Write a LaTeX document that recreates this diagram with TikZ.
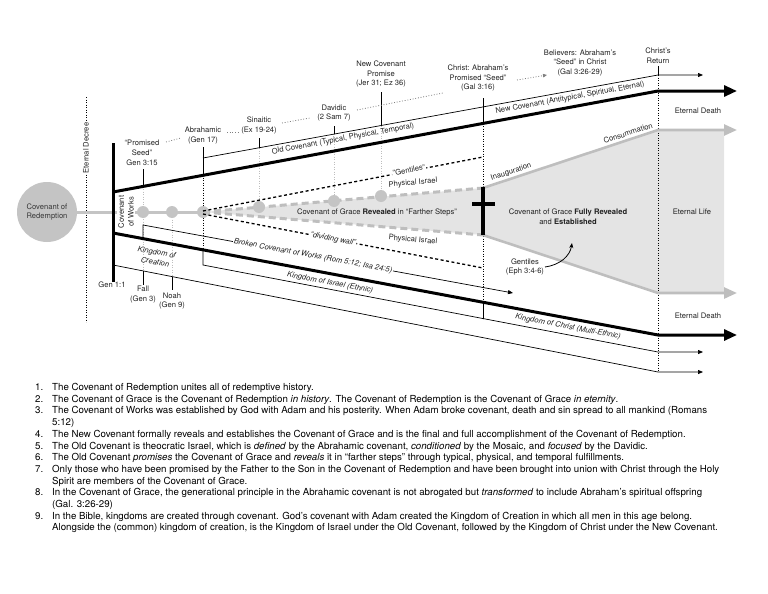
\documentclass[tikz,border=0pt]{standalone}
\usepackage{fontspec}
\setmainfont{TeX Gyre Heros}
\usetikzlibrary{arrows.meta}
\definecolor{lg}{HTML}{BEBEBE}
\definecolor{fillg}{HTML}{E4E4E4}
\definecolor{nodeg}{HTML}{C4C4C4}
\definecolor{txt}{HTML}{222222}
\newcommand\noteline[3]{\node[notenum] at (35,#1) {#2};\node[notetxt] at (52,#1) {#3};}
\begin{document}
\begin{tikzpicture}[x=1pt,y=-1pt,
  lbl/.style={font=\fontsize{7.6}{9.8}\selectfont, text=txt, align=center, inner sep=0.8pt},
  wlbl/.style={lbl, fill=white},
  ilbl/.style={lbl, font=\fontsize{7.6}{9.8}\selectfont\itshape},
  thickln/.style={line width=3pt, black},
  thinln/.style={line width=0.7pt, black},
  bigarrow/.style={-{Triangle[length=13pt,width=11pt]}},
  smallarrow/.style={-{Triangle[length=5pt,width=4pt]}},
  blkdot/.style={black, line width=0.9pt, dash pattern=on 0.9pt off 1.6pt},
  grydot/.style={lg, line width=0.9pt, dash pattern=on 0.9pt off 1.6pt},
  gconn/.style={gray, line width=0.8pt, dash pattern=on 0.9pt off 1.8pt},
  grydash/.style={lg, line width=3pt, dash pattern=on 7pt off 4pt},
  grayln/.style={lg, line width=2.6pt},
  blkdash/.style={black, line width=1.3pt, dash pattern=on 3pt off 2.5pt},
  gnode/.style={circle, fill=nodeg, minimum size=12pt, inner sep=0pt},
  notenum/.style={anchor=base west, inner sep=0pt, font=\fontsize{9.7}{11}\selectfont},
  notetxt/.style={anchor=base west, inner sep=0pt, font=\fontsize{9.7}{11}\selectfont},
]
\useasboundingbox (0,0) rectangle (768,594);

% ---- fills
\fill[fillg] (203,212) -- (483,188) -- (483,235) -- cycle;
\fill[fillg] (483,188) -- (658,130) -- (724,130) -- (724,293) -- (658,293) -- (483,235) -- cycle;

% ---- gray dotted verticals
\draw[grydot] (143,186.5) -- (143,271);
\draw[grydot] (172,212) -- (172,277);
\draw[grydot] (259,148) -- (259,207);
\draw[grydot] (334,134) -- (334,201);
\draw[grydot] (381,125.5) -- (381,196);

% ---- black dotted verticals
\draw[blkdot] (86,97) -- (86,322);
\draw[blkdot] (203,175) -- (203,250);
\draw[blkdot] (483,123.5) -- (483,318.5);
\draw[blkdot] (658,75) -- (658,372);

% ---- gray cone and right region
\draw[grydash] (203,212) -- (483,188);
\draw[grydash] (203,212) -- (483,235);
\draw[grayln, -{Triangle[length=13pt,width=11pt]}] (483,188) -- (658,130) -- (737,130);
\draw[grayln, -{Triangle[length=13pt,width=11pt]}] (483,235) -- (658,293) -- (737,293);

% ---- mid line and nodes
\draw[line width=3pt, nodeg] (77,212) -- (203,212);
\node[lbl, circle, fill=nodeg, minimum size=60pt, inner sep=0pt, text=txt!90] (cor) at (47,212) {Covenant of\\Redemption};
\node[gnode] (n1) at (143,212) {};
\node[gnode] (n2) at (172,212) {};
\node[gnode] (n3) at (203,212) {};
\node[gnode] (n4) at (259,207) {};
\node[gnode] (n5) at (334,201) {};
\node[gnode] (n6) at (381,196) {};

% ---- black dashed
\draw[blkdash] (203,211) -- (483,157);
\draw[blkdash] (203,214) -- (483,268);

% ---- main lines
\draw[thickln, bigarrow] (113,192) -- (658,91) -- (737,91);
\draw[thickln, bigarrow] (113,233) -- (658,335) -- (737,335);
\draw[line width=3pt] (113,143) -- (113,282);
\draw[thinln, smallarrow] (203,158) -- (658,75) -- (703,75);
\draw[thinln, smallarrow] (203,250) -- (203,265) -- (658,352) -- (703,352);
\draw[thinln, smallarrow] (113,265) -- (658,372) -- (703,372);
\draw[thinln, smallarrow] (143,238.5) -- (143,225) -- (513,293);

% ---- ticks
\draw[thinln] (143,169) -- (143,186.5);
\draw[thinln] (203,147) -- (203,175);
\draw[thinln] (259,138) -- (259,148);
\draw[thinln] (334,126) -- (334,134);
\draw[thinln] (381,92) -- (381,125.5);
\draw[thinln] (483,98) -- (483,123.5);
\draw[thinln] (483,302) -- (483,318.5);
\draw[thinln] (658,66) -- (658,75);
\draw[thinln] (143,271) -- (143,285);
\draw[thinln] (172,277) -- (172,290);

% ---- cross
\draw[line width=4pt] (483,187) -- (483,235);
\draw[line width=4pt] (472,204) -- (495,204);

% ---- top labels
\node[lbl] (ps) at (142,153) {“Promised\\Seed”\\Gen 3:15};
\node[lbl] (abr) at (203,135.5) {Abrahamic\\(Gen 17)};
\node[lbl] (sin) at (259,125.5) {Sinaitic\\(Ex 19-24)};
\node[lbl] (dav) at (334,113) {Davidic\\(2 Sam 7)};
\node[lbl] (ncp) at (381,74) {New Covenant\\Promise\\(Jer 31; Ez 36)};
\node[lbl] (chr) at (478,78) {Christ: Abraham’s\\Promised “Seed”\\(Gal 3:16)};
\node[lbl] (bel) at (580,63) {Believers: Abraham’s\\“Seed” in Christ\\(Gal 3:26-29)};
\node[lbl] (ret) at (658,56) {Christ’s\\Return};
\draw[gconn] (166,142) -- (181,138);
\draw[gconn] (227,132) -- (238,132);
\draw[gconn] (282,123) -- (310,118);
\draw[gconn] (357,110) -- (443,93);
\draw[gconn, -{Triangle[length=4pt,width=3.5pt]}] (517,80) -- (547,75);

% ---- left labels
\node[wlbl, rotate=90] (ed) at (86,148) {Eternal Decree};
\node[wlbl, rotate=90, inner sep=1.5pt] (cow) at (126,212) {Covenant\\of Works};
\node[ilbl, rotate=-10] (koc) at (156,257) {Kingdom of\\Creation};
\node[lbl] (g11) at (112,285) {Gen 1:1};
\node[lbl] (fall) at (143,294.5) {Fall\\(Gen 3)};
\node[lbl] (noah) at (172,301) {Noah\\(Gen 9)};

% ---- band labels
\node[lbl, rotate=10.4] (oc) at (343,139) {Old Covenant (Typical, Physical, Temporal)};
\node[lbl, rotate=10.4] (nc) at (570,98) {New Covenant (Antitypical, Spiritual, Eternal)};
\node[wlbl, rotate=10.9] (gen) at (409,170) {“Gentiles”};
\node[lbl, rotate=5] (pi1) at (413,183) {Physical Israel};
\node[lbl] (cgr) at (377,212) {Covenant of Grace \textbf{Revealed} in “Farther Steps”};
\node[lbl, rotate=-5] (pi2) at (413,240) {Physical Israel};
\node[wlbl, font=\fontsize{7.6}{9.8}\selectfont\itshape, rotate=-10.9] (dw) at (333,239) {“dividing wall”};
\node[wlbl, font=\fontsize{7.6}{9.8}\selectfont\itshape, rotate=-10.4] (bcw) at (313,256) {Broken Covenant of Works (Rom 5:12; Isa 24:5)};
\node[ilbl, rotate=-10.8] (koi) at (330,283) {Kingdom of Israel (Ethnic)};
\node[ilbl, rotate=-10.8] (kch) at (568,327) {Kingdom of Christ (Multi-Ethnic)};
\node[lbl, rotate=18] (inau) at (511,172) {Inauguration};
\node[lbl, rotate=18] (cons) at (628,133) {Consummation};
\node[lbl] (cgf) at (568,217) {Covenant of Grace \textbf{Fully Revealed}\\and \textbf{Established}};
\node[lbl] (ed1) at (698,111) {Eternal Death};
\node[lbl] (el) at (692,212) {Eternal Life};
\node[lbl] (ed2) at (698,316) {Eternal Death};
\node[lbl] (gent) at (525,267) {Gentiles\\(Eph 3:4-6)};
\draw[line width=0.8pt, -{Stealth[length=5pt,width=4pt]}] (gent.east) .. controls (560,265) and (570,256) .. (572,243);

% ---- notes
\noteline{390.5}{1.}{The Covenant of Redemption unites all of redemptive history.}
\noteline{402.2}{2.}{The Covenant of Grace is the Covenant of Redemption \textit{in history}. The Covenant of Redemption is the Covenant of Grace \textit{in eternity}.}
\noteline{413.9}{3.}{The Covenant of Works was established by God with Adam and his posterity. When Adam broke covenant, death and sin spread to all mankind (Romans}
\noteline{425.6}{}{5:12)}
\noteline{437.3}{4.}{The New Covenant formally reveals and establishes the Covenant of Grace and is the final and full accomplishment of the Covenant of Redemption.}
\noteline{449.0}{5.}{The Old Covenant is theocratic Israel, which is \textit{defined} by the Abrahamic covenant, \textit{conditioned} by the Mosaic, and \textit{focused} by the Davidic.}
\noteline{460.7}{6.}{The Old Covenant \textit{promises} the Covenant of Grace and \textit{reveals} it in “farther steps” through typical, physical, and temporal fulfillments.}
\noteline{472.4}{7.}{Only those who have been promised by the Father to the Son in the Covenant of Redemption and have been brought into union with Christ through the Holy}
\noteline{484.1}{}{Spirit are members of the Covenant of Grace.}
\noteline{495.8}{8.}{In the Covenant of Grace, the generational principle in the Abrahamic covenant is not abrogated but \textit{transformed} to include Abraham’s spiritual offspring}
\noteline{507.5}{}{(Gal. 3:26-29)}
\noteline{519.2}{9.}{In the Bible, kingdoms are created through covenant. God’s covenant with Adam created the Kingdom of Creation in which all men in this age belong.}
\noteline{530.9}{}{Alongside the (common) kingdom of creation, is the Kingdom of Israel under the Old Covenant, followed by the Kingdom of Christ under the New Covenant.}
\end{tikzpicture}
\end{document}
